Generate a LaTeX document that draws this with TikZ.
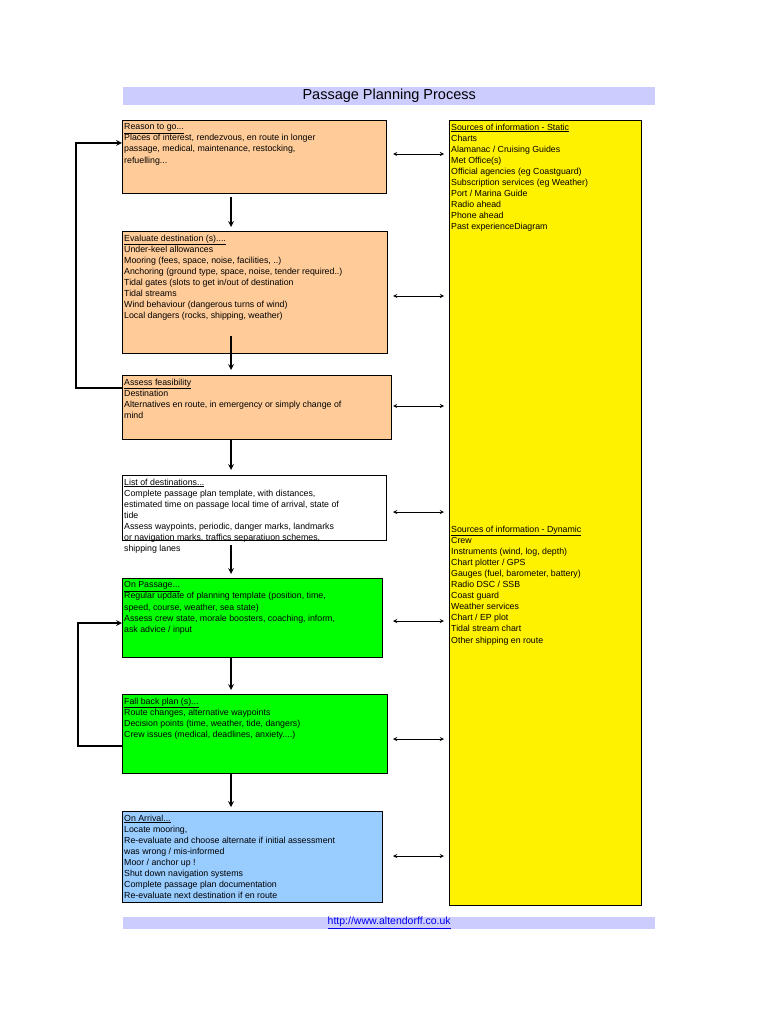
\documentclass[tikz,border=0pt]{standalone}
\usepackage{fontspec}
\setmainfont{Liberation Sans}
\usetikzlibrary{arrows}
\definecolor{peach}{HTML}{FFCC99}
\definecolor{lav}{HTML}{CCCCFF}
\definecolor{sky}{HTML}{99CCFF}
\definecolor{linkblue}{HTML}{0000EE}
\tikzstyle{box} = [rectangle, draw=black, anchor=north west, inner sep=0pt]
\tikzstyle{txt} = [anchor=north west, align=left, inner xsep=2pt, inner ysep=3.5pt, font=\fontsize{8.8}{11.1}\selectfont]
\tikzstyle{arrow} = [line width=1.6pt, ->,>=stealth]
\tikzstyle{link} = [line width=0.9pt, <->,>=stealth]
\newcommand{\hd}[1]{\underline{#1}}

\begin{document}
\begin{tikzpicture}[x=1pt, y=-1pt]
	\useasboundingbox[fill=white] (0,0) rectangle (768,1024);
	\node (title)[box, draw=none, fill=lav, minimum width=532, minimum height=18, font=\fontsize{14.5}{16}\selectfont] at (123,87){Passage Planning Process};
	\node (reason)[box, fill=peach, minimum width=264, minimum height=73] at (122,120){};
	\node (evaluate)[box, fill=peach, minimum width=265, minimum height=122] at (122,231){};
	\node (assess)[box, fill=peach, minimum width=269, minimum height=64] at (122,375){};
	\node (list)[box, minimum width=264, minimum height=65] at (122,475){};
	\node (passage)[box, fill=green, minimum width=260, minimum height=79] at (122,578){};
	\node (fallback)[box, fill=green, minimum width=265, minimum height=79] at (122,694){};
	\node (arrival)[box, fill=sky, minimum width=260, minimum height=91] at (122,811){};
	\node (sources)[box, fill=yellow, minimum width=192, minimum height=785] at (449,120){};
	\node (footer)[box, draw=none, fill=lav, minimum width=532, minimum height=12] at (123,917){};
	\node[font=\fontsize{10.5}{11}\selectfont, text=linkblue] at (footer.center){\underline{http://www.altendorff.co.uk}};

	\node[txt] at (reason.north west){\hd{Reason to go...}\\Places of interest, rendezvous, en route in longer\\passage, medical, maintenance, restocking,\\refuelling...};
	\node[txt] at (evaluate.north west){\hd{Evaluate destination (s)....}\\Under-keel allowances\\Mooring (fees, space, noise, facilities, ..)\\Anchoring (ground type, space, noise, tender required..)\\Tidal gates (slots to get in/out of destination\\Tidal streams\\Wind behaviour (dangerous turns of wind)\\Local dangers (rocks, shipping, weather)};
	\node[txt] at (assess.north west){\hd{Assess feasibility}\\Destination\\Alternatives en route, in emergency or simply change of\\mind};
	\node[txt] at (list.north west){\hd{List of destinations...}\\Complete passage plan template, with distances,\\estimated time on passage local time of arrival, state of\\tide\\Assess waypoints, periodic, danger marks, landmarks\\or navigation marks, traffics separatiuon schemes,\\shipping lanes};
	\node[txt] at (passage.north west){\hd{On Passage...}\\Regular update of planning template (position, time,\\speed, course, weather, sea state)\\Assess crew state, morale boosters, coaching, inform,\\ask advice / input};
	\node[txt] at (fallback.north west){\hd{Fall back plan (s)...}\\Route changes, alternative waypoints\\Decision points (time, weather, tide, dangers)\\Crew issues (medical, deadlines, anxiety....)};
	\node[txt] at (arrival.north west){\hd{On Arrival...}\\Locate mooring,\\Re-evaluate and choose alternate if initial assessment\\was wrong / mis-informed\\Moor / anchor up !\\Shut down navigation systems\\Complete passage plan documentation\\Re-evaluate next destination if en route};
	\node[txt] at (sources.north west){\hd{Sources of information - Static}\\Charts\\Alamanac / Cruising Guides\\Met Office(s)\\Official agencies (eg Coastguard)\\Subscription services (eg Weather)\\Port / Marina Guide\\Radio ahead\\Phone ahead\\Past experienceDiagram};
	\node[txt] at (449,522){\hd{Sources of information - Dynamic}\\Crew\\Instruments (wind, log, depth)\\Chart plotter / GPS\\Gauges (fuel, barometer, battery)\\Radio DSC / SSB\\Coast guard\\Weather services\\Chart / EP plot\\Tidal stream chart\\Other shipping en route};

	\draw [arrow] (231,197) -- (231,227);
	\draw [arrow] (231,336) -- (231,370);
	\draw [arrow] (231,439) -- (231,470);
	\draw [arrow] (231,545) -- (231,574);
	\draw [arrow] (231,657) -- (231,690);
	\draw [arrow] (231,773) -- (231,807);
	\foreach \y in {154,296,406,512,621,739,856}
		\draw [link] (393,\y) -- (444,\y);
	\draw [arrow] (assess.west |- 0,388) -- (76,388) |- (reason.west |- 0,143);
	\draw [arrow] (fallback.west |- 0,746) -- (78,746) |- (passage.west |- 0,623);
\end{tikzpicture}
\end{document}
